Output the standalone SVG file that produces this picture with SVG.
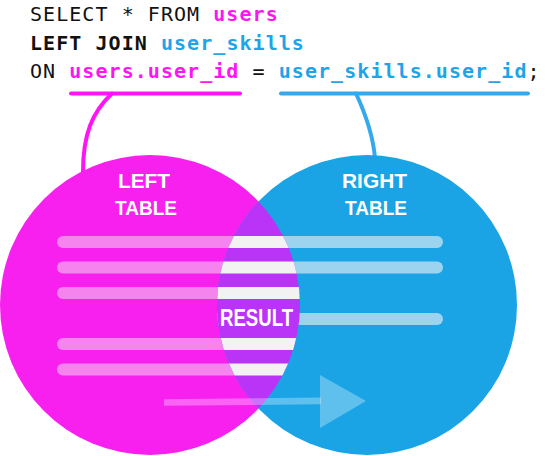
<svg xmlns="http://www.w3.org/2000/svg" width="545" height="456" viewBox="0 0 545 456">
  <style>
    .code { font-family: "DejaVu Sans Mono", "Liberation Mono", monospace; font-size: 20px; letter-spacing: 1.05px; fill: #111; }
    .kw { font-weight: bold; }
    .mag { fill: #FF14F5; font-weight: bold; }
    .blu { fill: #1FA4E8; font-weight: bold; }
    .label { font-family: "Liberation Sans", Arial, sans-serif; font-weight: bold; font-size: 19.5px; fill: #fff; }
    .pinkbar { stroke: #F584EE; stroke-width: 12; stroke-linecap: round; }
    .bluebar { stroke: #9CD4F0; stroke-width: 12; stroke-linecap: round; }
    .stripe { fill: #F2F2F2; }
    .conn { fill: none; stroke-width: 4; stroke-linecap: round; }
  </style>
  <defs>
    <clipPath id="clipL"><circle cx="150" cy="305" r="150"/></clipPath>
    <clipPath id="clipR"><circle cx="367" cy="305" r="150"/></clipPath>
  </defs>
  <rect width="545" height="456" fill="#ffffff"/>

  <g id="query">
    <text class="code" x="30" y="21">SELECT * FROM <tspan class="mag">users</tspan></text>
    <text class="code" x="30" y="49.5"><tspan class="kw">LEFT JOIN</tspan> <tspan class="blu">user_skills</tspan></text>
    <text class="code" x="30" y="78">ON <tspan class="mag">users.user_id</tspan> = <tspan class="blu">user_skills.user_id</tspan>;</text>
  </g>

  <g id="connectors">
    <path class="conn" stroke="#FF14F5" d="M71 93.5 H240"/>
    <path class="conn" stroke="#FF14F5" d="M112 93.5 C 92 112, 83 135, 83 172"/>
    <path class="conn" stroke="#36A9EC" d="M281 93.5 H528"/>
    <path class="conn" stroke="#36A9EC" d="M356 93.5 C 366 115, 373 135, 375 158"/>
  </g>

  <g id="left-table">
    <circle cx="150" cy="305" r="150" fill="#F820EF"/>
    <g clip-path="url(#clipL)">
      <line class="pinkbar" x1="63" y1="242" x2="437" y2="242"/>
      <line class="pinkbar" x1="63" y1="267.5" x2="437" y2="267.5"/>
      <line class="pinkbar" x1="63" y1="293" x2="437" y2="293"/>
      <line class="pinkbar" x1="63" y1="344" x2="437" y2="344"/>
      <line class="pinkbar" x1="63" y1="369.5" x2="437" y2="369.5"/>
    </g>
    <text class="label" x="118" y="188.3" textLength="52" lengthAdjust="spacingAndGlyphs">LEFT</text>
    <text class="label" x="115" y="215" textLength="62" lengthAdjust="spacingAndGlyphs">TABLE</text>
  </g>

  <g id="right-table">
    <circle cx="367" cy="305" r="150" fill="#1AA4E6"/>
    <g clip-path="url(#clipR)">
      <line class="bluebar" x1="63" y1="242" x2="437" y2="242"/>
      <line class="bluebar" x1="63" y1="267.5" x2="437" y2="267.5"/>
      <line class="bluebar" x1="200" y1="319" x2="437" y2="319"/>
    </g>
    <text class="label" x="342" y="188.3" textLength="65" lengthAdjust="spacingAndGlyphs">RIGHT</text>
    <text class="label" x="345" y="215" textLength="62" lengthAdjust="spacingAndGlyphs">TABLE</text>
  </g>

  <g id="result">
    <g clip-path="url(#clipL)">
      <g clip-path="url(#clipR)">
        <rect x="200" y="150" width="120" height="310" fill="#B934F7"/>
        <rect class="stripe" x="200" y="236" width="120" height="12"/>
        <rect class="stripe" x="200" y="261.5" width="120" height="12"/>
        <rect class="stripe" x="200" y="287" width="120" height="12"/>
        <rect class="stripe" x="200" y="338" width="120" height="12"/>
        <rect class="stripe" x="200" y="363.5" width="120" height="12"/>
      </g>
    </g>
    <text class="label" x="220" y="325.5" style="font-size:23px" textLength="73" lengthAdjust="spacingAndGlyphs">RESULT</text>
  </g>

  <g id="arrow" fill="#ffffff" fill-opacity="0.3">
    <polygon points="164,399.3 321,397.4 321,404.3 164,405.8"/>
    <polygon points="320,375 366,401 320,428"/>
  </g>
</svg>
